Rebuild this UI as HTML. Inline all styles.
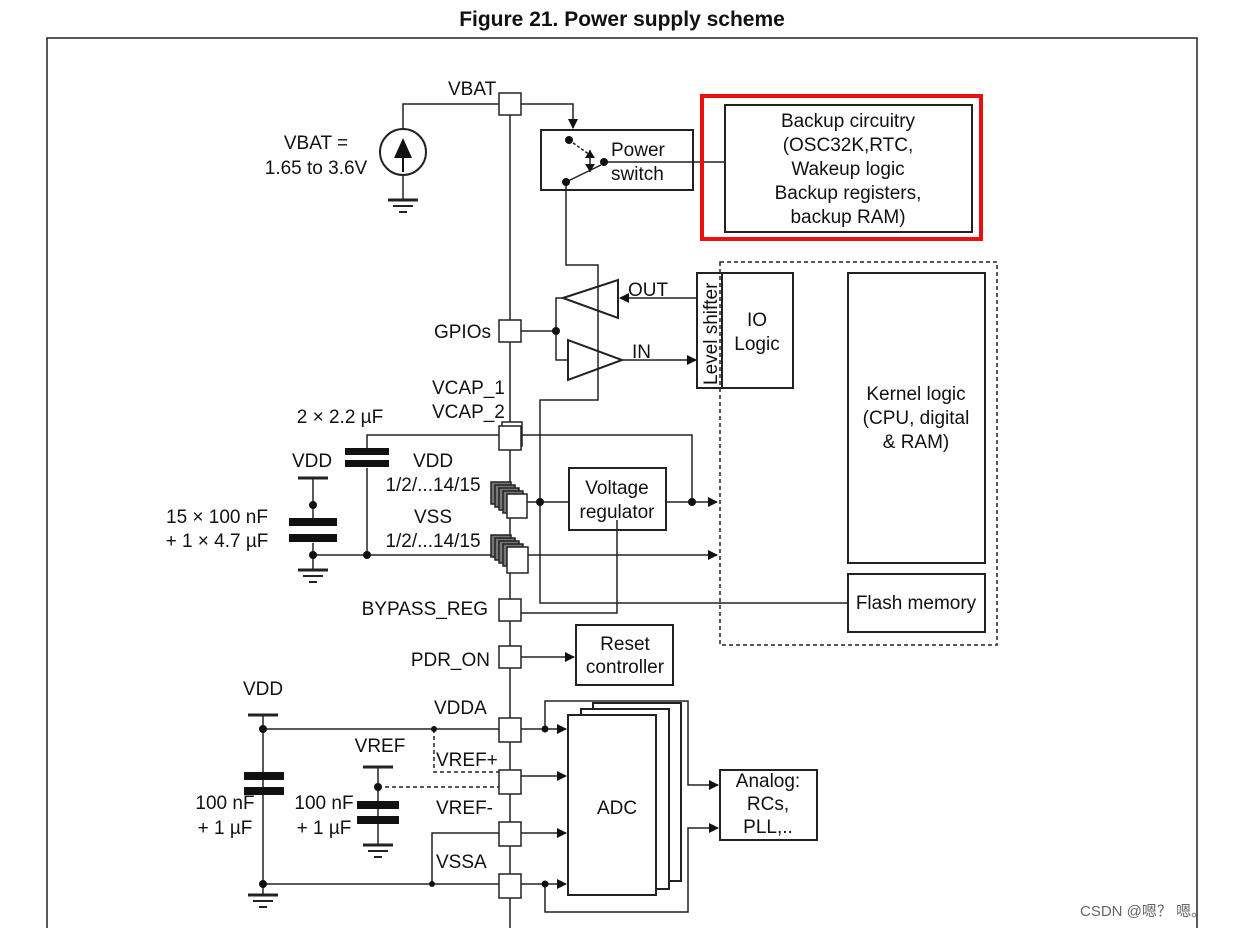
<!DOCTYPE html>
<html><head><meta charset="utf-8"><style>
html,body{margin:0;padding:0;background:#fff;}
svg{display:block;}
text{font-family:"Liberation Sans",Arial,sans-serif;font-size:19px;fill:#111;}
</style></head><body>
<svg width="1237" height="928" viewBox="0 0 1237 928" xmlns="http://www.w3.org/2000/svg">
<defs>
<marker id="a" markerWidth="10" markerHeight="10" refX="9" refY="5" orient="auto" markerUnits="userSpaceOnUse">
<path d="M0,0 L10,5 L0,10 z" fill="#111"/></marker>
</defs>
<rect width="1237" height="928" fill="#fff"/>
<text x="622" y="26" text-anchor="middle" style="font-size:21px;font-weight:bold">Figure 21. Power supply scheme</text>
<rect x="47" y="38" width="1150" height="900" fill="none" stroke="#222" stroke-width="1.5"/>

<g stroke="#222" stroke-width="1.5" fill="none">
<line x1="510" y1="104" x2="510" y2="928"/>
<polyline points="499,104 403,104 403,129"/>
<circle cx="403" cy="152" r="23" stroke-width="2"/>
<line x1="403" y1="175" x2="403" y2="200"/>
<line x1="388" y1="200" x2="418" y2="200" stroke-width="3"/>
<line x1="393" y1="206" x2="413" y2="206" stroke-width="2"/>
<line x1="399" y1="212" x2="407" y2="212" stroke-width="2"/>
<polyline points="521,104 573,104 573,128" marker-end="url(#a)"/>
<rect x="541" y="130" width="152" height="60" stroke-width="2"/>
<line x1="569" y1="140" x2="590" y2="155" stroke-dasharray="3,2"/>
<line x1="566" y1="182" x2="601" y2="165"/>
<line x1="604" y1="162" x2="725" y2="162"/>
<line x1="590" y1="150" x2="590" y2="172"/>
<polyline points="566,182 566,265 598,265 598,400 540,400 540,603 848,603"/>
<rect x="702" y="96" width="279" height="143" stroke="#e81010" stroke-width="4"/>
<rect x="725" y="105" width="247" height="127" stroke-width="2"/>
<polygon points="563,298 618,280 618,318" stroke-width="2"/>
<polygon points="568,340 568,380 622,360" stroke-width="2"/>
<line x1="697" y1="298" x2="620" y2="298" marker-end="url(#a)"/>
<line x1="622" y1="360" x2="696" y2="360" marker-end="url(#a)"/>
<polyline points="563,298 556,298 556,360 568,360"/>
<line x1="521" y1="331" x2="556" y2="331"/>
<rect x="720" y="262" width="277" height="383" stroke-dasharray="4,3"/>
<rect x="697" y="273" width="25" height="115" stroke-width="2"/>
<rect x="722" y="273" width="71" height="115" stroke-width="2"/>
<rect x="848" y="273" width="137" height="290" stroke-width="2"/>
<rect x="848" y="574" width="137" height="58" stroke-width="2"/>
<polyline points="521,435 692,435 692,502"/>
<polyline points="499,435 367,435 367,452"/>
<line x1="367" y1="468" x2="367" y2="555"/>
<line x1="527" y1="502" x2="569" y2="502"/>
<rect x="569" y="468" width="97" height="62" stroke-width="2"/>
<line x1="666" y1="502" x2="717" y2="502" marker-end="url(#a)"/>
<polyline points="617,520 617,613 521,613"/>
<line x1="313" y1="555" x2="717" y2="555" marker-end="url(#a)"/>
<line x1="298" y1="478" x2="328" y2="478" stroke-width="3"/>
<line x1="313" y1="478" x2="313" y2="518"/>
<line x1="313" y1="543" x2="313" y2="570"/>
<line x1="298" y1="570" x2="328" y2="570" stroke-width="3"/>
<line x1="303" y1="576" x2="323" y2="576" stroke-width="2"/>
<line x1="309" y1="582" x2="317" y2="582" stroke-width="2"/>
<line x1="521" y1="657" x2="574" y2="657" marker-end="url(#a)"/>
<rect x="576" y="625" width="97" height="60" stroke-width="2"/>
<line x1="263" y1="715" x2="263" y2="895"/>
<line x1="248" y1="715" x2="278" y2="715" stroke-width="3"/>
<line x1="248" y1="895" x2="278" y2="895" stroke-width="3"/>
<line x1="253" y1="901" x2="273" y2="901" stroke-width="2"/>
<line x1="259" y1="907" x2="267" y2="907" stroke-width="2"/>
<line x1="263" y1="729" x2="566" y2="729" marker-end="url(#a)"/>
<line x1="263" y1="884" x2="566" y2="884" marker-end="url(#a)"/>
<polyline points="434,729 434,772 499,772" stroke-dasharray="4,3"/>
<line x1="378" y1="787" x2="499" y2="787" stroke-dasharray="4,3"/>
<line x1="363" y1="767" x2="393" y2="767" stroke-width="3"/>
<line x1="378" y1="767" x2="378" y2="845"/>
<line x1="363" y1="845" x2="393" y2="845" stroke-width="3"/>
<line x1="368" y1="851" x2="388" y2="851" stroke-width="2"/>
<line x1="374" y1="857" x2="382" y2="857" stroke-width="2"/>
<line x1="521" y1="776" x2="566" y2="776" marker-end="url(#a)"/>
<line x1="521" y1="833" x2="566" y2="833" marker-end="url(#a)"/>
<polyline points="432,884 432,833 499,833"/>
<polyline points="545,729 545,701 688,701 688,785 718,785" marker-end="url(#a)"/>
<polyline points="545,884 545,912 688,912 688,828 718,828" marker-end="url(#a)"/>
<rect x="593" y="703" width="88" height="178" fill="#fff" stroke-width="2"/>
<rect x="581" y="709" width="88" height="180" fill="#fff" stroke-width="2"/>
<rect x="568" y="715" width="88" height="180" fill="#fff" stroke-width="2"/>
<rect x="720" y="770" width="97" height="70" stroke-width="2"/>
</g>

<g fill="#111">
<rect x="345" y="448" width="44" height="7"/><rect x="345" y="460" width="44" height="7"/>
<rect x="289" y="518" width="48" height="8"/><rect x="289" y="534" width="48" height="8"/>
<rect x="244" y="772" width="40" height="8"/><rect x="244" y="787" width="40" height="8"/>
<rect x="357" y="801" width="42" height="8"/><rect x="357" y="816" width="42" height="8"/>
<polygon points="403,138 394,158 412,158"/><rect x="402" y="158" width="2" height="14"/>
<polygon points="590,150 585,158 595,158"/><polygon points="590,172 585,164 595,164"/>
<circle cx="569" cy="140" r="4"/><circle cx="566" cy="182" r="4"/><circle cx="604" cy="162" r="4"/>
<circle cx="556" cy="331" r="4"/>
<circle cx="540" cy="502" r="4"/><circle cx="692" cy="502" r="4"/>
<circle cx="313" cy="505" r="4"/><circle cx="313" cy="555" r="4"/><circle cx="367" cy="555" r="4"/>
<circle cx="263" cy="729" r="4"/><circle cx="263" cy="884" r="4"/><circle cx="434" cy="729" r="3"/>
<circle cx="432" cy="884" r="3"/><circle cx="378" cy="787" r="4"/>
<circle cx="545" cy="729" r="3.5"/><circle cx="545" cy="884" r="3.5"/>
</g>

<g fill="#fff" stroke="#222" stroke-width="1.5">
<rect x="499" y="93" width="22" height="22"/>
<rect x="499" y="320" width="22" height="22"/>
<rect x="502" y="422" width="20" height="24"/><rect x="499" y="426" width="22" height="24"/>
</g>
<g fill="#777" stroke="#222" stroke-width="1.5">
<rect x="491" y="482" width="20" height="22"/><rect x="495" y="485" width="20" height="22"/><rect x="499" y="488" width="20" height="22"/><rect x="503" y="491" width="20" height="22"/>
<rect x="491" y="535" width="20" height="22"/><rect x="495" y="538" width="20" height="22"/><rect x="499" y="541" width="20" height="22"/><rect x="503" y="544" width="20" height="22"/>
</g>
<g fill="#fff" stroke="#222" stroke-width="1.5">
<rect x="507" y="494" width="20" height="24"/>
<rect x="507" y="547" width="21" height="26"/>
<rect x="499" y="599" width="22" height="22"/>
<rect x="499" y="646" width="22" height="22"/>
<rect x="499" y="718" width="22" height="24"/>
<rect x="499" y="770" width="22" height="24"/>
<rect x="499" y="822" width="22" height="24"/>
<rect x="499" y="874" width="22" height="24"/>
</g>

<text x="448" y="95">VBAT</text>
<text x="316" y="149" text-anchor="middle">VBAT =</text>
<text x="316" y="174" text-anchor="middle">1.65 to 3.6V</text>
<text x="611" y="156">Power</text>
<text x="611" y="180">switch</text>
<g text-anchor="middle">
<text x="848" y="127">Backup circuitry</text>
<text x="848" y="151">(OSC32K,RTC,</text>
<text x="848" y="175">Wakeup logic</text>
<text x="848" y="199">Backup registers,</text>
<text x="848" y="223">backup RAM)</text>
<text x="757" y="326">IO</text><text x="757" y="350">Logic</text>
<text x="916" y="400">Kernel logic</text>
<text x="916" y="424">(CPU, digital</text>
<text x="916" y="448">&amp; RAM)</text>
<text x="916" y="609">Flash memory</text>
<text x="617" y="494">Voltage</text><text x="617" y="518">regulator</text>
<text x="625" y="650">Reset</text><text x="625" y="673">controller</text>
<text x="617" y="814">ADC</text>
<text x="768" y="787">Analog:</text><text x="768" y="810">RCs,</text><text x="768" y="833">PLL,..</text>
<text x="340" y="423">2 × 2.2 µF</text>
<text x="312" y="467">VDD</text>
<text x="217" y="523">15 × 100 nF</text>
<text x="217" y="547">+ 1 × 4.7 µF</text>
<text x="433" y="467">VDD</text><text x="433" y="491">1/2/...14/15</text>
<text x="433" y="523">VSS</text><text x="433" y="547">1/2/...14/15</text>
<text x="263" y="695">VDD</text>
<text x="380" y="752">VREF</text>
<text x="225" y="809">100 nF</text><text x="225" y="834">+ 1 µF</text>
<text x="324" y="809">100 nF</text><text x="324" y="834">+ 1 µF</text>
</g>
<text x="717" y="385" transform="rotate(-90 717 385)">Level shifter</text>
<text x="628" y="296">OUT</text>
<text x="632" y="358">IN</text>
<text x="491" y="338" text-anchor="end">GPIOs</text>
<text x="432" y="394">VCAP_1</text>
<text x="432" y="418">VCAP_2</text>
<text x="488" y="615" text-anchor="end">BYPASS_REG</text>
<text x="490" y="666" text-anchor="end">PDR_ON</text>
<text x="434" y="714">VDDA</text>
<text x="436" y="766">VREF+</text>
<text x="436" y="814">VREF-</text>
<text x="436" y="868">VSSA</text>
<text x="1080" y="916" style="font-family:'Liberation Sans','Noto Sans CJK SC',sans-serif;font-size:15px;fill:#666">CSDN @嗯？ 嗯。</text>
</svg>
</body></html>
